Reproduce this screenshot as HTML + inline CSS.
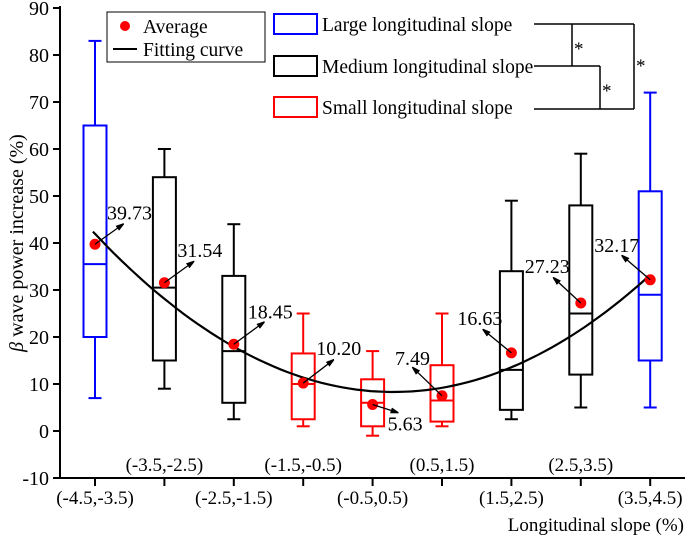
<!DOCTYPE html>
<html><head><meta charset="utf-8"><style>
body{margin:0;background:#fff}
svg{display:block;font-family:"Liberation Serif",serif}
</style></head><body>
<svg id="chart" width="685" height="536" viewBox="0 0 685 536" xmlns="http://www.w3.org/2000/svg">
<defs><marker id="ah" markerWidth="8" markerHeight="6" refX="7" refY="3" orient="auto" markerUnits="userSpaceOnUse"><path d="M0,0 L10,3 L0,6 z" fill="#000"/></marker></defs>
<g id="plot"></g>
</svg>
<script>
const categories=["(-4.5,-3.5)","(-3.5,-2.5)","(-2.5,-1.5)","(-1.5,-0.5)","(-0.5,0.5)","(0.5,1.5)","(1.5,2.5)","(2.5,3.5)","(3.5,4.5)"];
const mins=[7,9,2.5,1,-1,1,2.5,5,5];
const q1s=[20,15,6,2.5,1,2,4.5,12,15];
const medians=[35.5,30.5,17,10,6,6.5,13,25,29];
const q3s=[65,54,33,16.5,11,14,34,48,51];
const maxs=[83,60,44,25,17,25,49,59,72];
const means=[39.73,31.54,18.45,10.20,5.63,7.49,16.63,27.23,32.17];
const meanLabels=["39.73","31.54","18.45","10.20","5.63","7.49","16.63","27.23","32.17"];
const groups=["large","medium","medium","small","small","small","medium","medium","large"];
const yTicks=[90,80,70,60,50,40,30,20,10,0,-10];
const fitA=1.82, fitC=4.3, fitB=8.3;

const NS="http://www.w3.org/2000/svg";
const g=document.getElementById('plot');
const X=i=>95+i*69.4;
const Y=v=>431-v*4.7;
const colors={large:"#0000ff",medium:"#000",small:"#ff0000"};
function el(t,a,p){const e=document.createElementNS(NS,t);for(const k in a)e.setAttribute(k,a[k]);(p||g).appendChild(e);return e;}
function txt(s,a,p){const e=el('text',a,p);e.textContent=s;return e;}

let ax=el('line',{x1:60,y1:6,x2:60,y2:479,stroke:"#000","stroke-width":2});


ax=el('line',{x1:59,y1:478,x2:685,y2:478,stroke:"#000","stroke-width":2});


yTicks.forEach(v=>{
  const y=v===-10?478:Y(v);
  el('line',{x1:53,y1:y,x2:60,y2:y,stroke:"#000","stroke-width":2});
  const t=txt(String(v),{x:49,y:y+7,"text-anchor":"end","font-size":20});
  
  
});
categories.forEach((c,i)=>{
  el('line',{x1:X(i),y1:478,x2:X(i),y2:486,stroke:"#000","stroke-width":2});
  const t=txt(c,{x:X(i),y:i%2?471:504,"text-anchor":"middle","font-size":19});
  
  
});
let t=txt("Longitudinal slope (%)",{x:684,y:531,"text-anchor":"end","font-size":19});


t=txt("",{x:0,y:0,"font-size":20,transform:"translate(23,243) rotate(-90)","text-anchor":"middle"});
t.innerHTML='<tspan font-style="italic">β</tspan> wave power increase (%)';



categories.forEach((c,i)=>{
  const col=colors[groups[i]],x=X(i),w=23,cw=13;
  const b=el('g',{stroke:col,"stroke-width":2,fill:"none"});
  
  
  el('line',{x1:x,y1:Y(maxs[i]),x2:x,y2:Y(q3s[i])},b);
  el('line',{x1:x,y1:Y(q1s[i]),x2:x,y2:Y(mins[i])},b);
  el('line',{x1:x-cw/2,y1:Y(maxs[i]),x2:x+cw/2,y2:Y(maxs[i])},b);
  el('line',{x1:x-cw/2,y1:Y(mins[i]),x2:x+cw/2,y2:Y(mins[i])},b);
  el('rect',{x:x-w/2,y:Y(q3s[i]),width:w,height:Y(q1s[i])-Y(q3s[i])},b);
  el('line',{x1:x-w/2,y1:Y(medians[i]),x2:x+w/2,y2:Y(medians[i])},b);
});

let d="";
for(let k=0;k<=80;k++){const u=-0.03+k*8/80;d+=(k?"L":"M")+X(u).toFixed(1)+","+Y(fitA*(u-fitC)*(u-fitC)+fitB).toFixed(1);}
const fc=el('path',{d:d,stroke:"#000","stroke-width":2.2,fill:"none"});



const arrowOff=[[28,-20],[29,-21],[30,-22],[30,-23],[25,8],[-29,-28],[-28,-23],[-27,-25],[-28,-24]];
const textOff=[[12,-25],[13,-26],[14,-26],[13,-28],[15,26],[-47,-31],[-54,-28],[-56,-30],[-56,-28]];
means.forEach((m,i)=>{
  const x=X(i),y=Y(m),a=arrowOff[i],o=textOff[i];
  const dt=el('circle',{cx:x,cy:y,r:5.5,fill:"#ff0000"});
  
  
  el('line',{x1:x,y1:y,x2:x+a[0],y2:y+a[1],stroke:"#000","stroke-width":1.3,"marker-end":"url(#ah)"});
  const lt=txt(meanLabels[i],{x:x+o[0],y:y+o[1],"font-size":20});
  
  
});

const lg=el('g',{});


el('rect',{x:107,y:12,width:158,height:50,fill:"#fff",stroke:"#000","stroke-width":1},lg);
el('circle',{cx:125,cy:26,r:5,fill:"#ff0000"},lg);
txt("Average",{x:143,y:33,"font-size":19.5},lg);
el('line',{x1:113,y1:49,x2:137,y2:49,stroke:"#000","stroke-width":2},lg);
txt("Fitting curve",{x:143,y:56,"font-size":19.5},lg);

const lg2=el('g',{});


[["Large longitudinal slope","#0000ff",14],["Medium longitudinal slope","#000",56],["Small longitudinal slope","#ff0000",97]].forEach(r=>{
  el('rect',{x:274,y:r[2],width:43,height:20,fill:"#fff",stroke:r[1],"stroke-width":2},lg2);
  txt(r[0],{x:322,y:r[2]+17,"font-size":19.5},lg2);
});

const sg=el('g',{stroke:"#000","stroke-width":1.5,fill:"none"});


[[534,24,634,24],[534,66,600,66],[534,109,634,109],[572,24,572,66],[600,66,600,109],[634,24,634,109]].forEach(l=>el('line',{x1:l[0],y1:l[1],x2:l[2],y2:l[3]},sg));
[[574,55],[602,97],[636,72]].forEach(p=>{const s=txt("*",{x:p[0],y:p[1],"font-size":19});

});
</script>
</body></html>
